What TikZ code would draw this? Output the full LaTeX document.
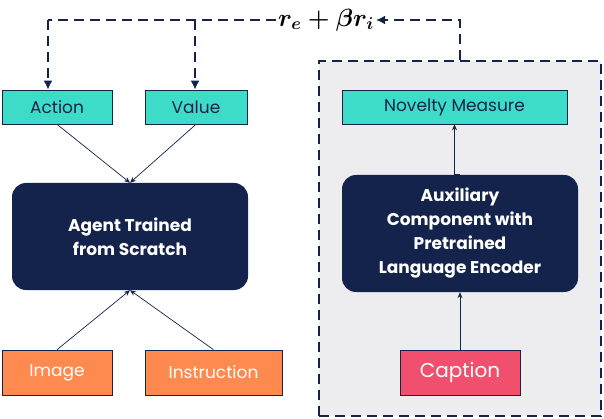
\documentclass[tikz,border=0pt]{standalone}
\usepackage{fontspec}
\usepackage{amsmath}
\setmainfont{Poppins}
\usetikzlibrary{arrows.meta}
\definecolor{navy}{HTML}{14234B}
\definecolor{teal}{HTML}{3DDCC8}
\definecolor{orng}{HTML}{FF8A50}
\definecolor{pink}{HTML}{F0506E}
\definecolor{gbg}{HTML}{EDEDEF}
\begin{document}
\begin{tikzpicture}[x=1pt,y=-1pt,
 sm/.style={draw=navy,line width=0.6pt,minimum height=34pt,font=\fontsize{17}{19}\selectfont,text=navy,inner sep=0pt},
 big/.style={fill=navy,rounded corners=14pt,text=white,font=\bfseries\fontsize{17}{24}\selectfont,align=center,inner sep=0pt},
 arr/.style={-{Stealth[length=6pt,width=5pt]},navy,line width=0.7pt},
 dsh/.style={navy,line width=2pt,dash pattern=on 10pt off 6pt}]
\useasboundingbox (0,0) rectangle (604,419);
\node[draw=navy,dsh,fill=gbg,minimum width=282pt,minimum height=355pt,anchor=north west] (reg) at (318,60) {};
\node[sm,fill=teal,minimum width=110pt] (act) at (57,107) {Action};
\node[sm,fill=teal,minimum width=102pt] (val) at (196,107) {Value};
\node[sm,fill=teal,minimum width=225pt] (nov) at (454.5,107) {Novelty Measure};
\node[big,minimum width=236pt,minimum height=107pt] (ag) at (130,236.5) {Agent Trained\\from Scratch};
\node[big,minimum width=236pt,minimum height=117pt] (aux) at (460,233.5) {Auxiliary\\Component with\\Pretrained\\Language Encoder};
\node[sm,fill=orng,text=white,minimum width=110pt,minimum height=45pt] (img) at (57,372.5) {Image};
\node[sm,fill=orng,text=white,minimum width=137pt,minimum height=45pt] (ins) at (213.5,372.5) {Instruction};
\node[sm,fill=pink,text=white,minimum width=120pt,minimum height=45pt,font=\fontsize{20}{22}\selectfont] (cap) at (460,372.5) {Caption};
\draw[arr] (act.south) -- (ag.north);
\draw[arr] (val.south) -- (ag.north);
\draw[arr] (img.north) -- (ag.south);
\draw[arr] (ins.north) -- (ag.south);
\draw[arr] (cap.north) -- (aux.south);
\draw[arr] (aux.north) -- (nov.north|-aux.north) -- (nov.south);
\node[font=\fontsize{27}{29}\selectfont,text=black,inner sep=2pt] (rw) at (326,20) {$\boldsymbol{r_e+\beta r_i}$};
\coordinate (tr) at (460,20);
\coordinate (tl) at (48,20);
\coordinate (tm) at (195,20);
\draw[dsh,-{Latex[length=9pt,width=9pt]}] (460,60) -- (tr) -- (rw.east);
\draw[dsh] (rw.west) -- (tl);
\draw[dsh,-{Latex[length=9pt,width=9pt]}] (tl) -- (act.north-|tl);
\draw[dsh,-{Latex[length=9pt,width=9pt]}] (tm) -- (val.north-|tm);
\end{tikzpicture}
\end{document}
